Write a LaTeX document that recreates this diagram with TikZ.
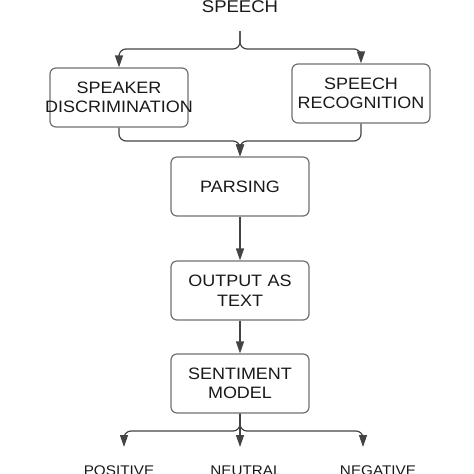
\documentclass[tikz,border=0pt]{standalone}
\usepackage{fontspec}
\setmainfont{Liberation Sans}[FakeStretch=1.09]
\usetikzlibrary{arrows.meta}
\definecolor{linegray}{HTML}{444444}
\definecolor{boxgray}{HTML}{707070}

\begin{document}
\begin{tikzpicture}[x=1pt, y=-1pt,
		stage/.style={draw=boxgray, line width=1.2pt, rounded corners=6pt, minimum width=138pt, minimum height=59pt, inner sep=0pt, text width=128pt, align=center, text=black!90, font=\fontsize{16.5}{19.5}\selectfont},
		flow/.style={draw=linegray, line width=1.2pt, rounded corners=7pt, -{Triangle[length=12pt, width=8pt]}},
		outcome/.style={anchor=base, text=black!90, font=\fontsize{14}{16}\selectfont}]
			\useasboundingbox (0,0) rectangle (474,474);
			\clip (0,0) rectangle (474,474);

			% Input
			\node[anchor=base, text=black!90, font=\fontsize{17}{20}\selectfont] (speech) at (240,12) {SPEECH};
			\coordinate (fork) at (240,31);

			% Boxes
			\node[stage] (spk) at (119,97.5) {SPEAKER\\\hbox to\linewidth{\hss DISCRIMINATION\hss}};
			\node[stage] (rec) at (361,93.5) {SPEECH\\RECOGNITION};
			\node[stage] (parse) at (240,186.5) {PARSING};
			\node[stage] (output) at (240,290.5) {OUTPUT AS\\TEXT};
			\node[stage] (senti) at (240,383.5) {SENTIMENT\\MODEL};

			% Split into the two branches
			\draw[flow] (fork) -- (240,49) -| (spk.north);
			\draw[flow] (fork) -- (240,49) -| (rec.north);

			% Join again
			\draw[flow] (spk.south) |- (240,141) -- (parse.north);
			\draw[flow] (rec.south) |- (240,141) -- (parse.north);
			\draw[flow] (parse) -- (output);
			\draw[flow] (output) -- (senti);

			% Outcomes
			\coordinate (pos-tip) at (124,447);
			\coordinate (neu-tip) at (240,447);
			\coordinate (neg-tip) at (363,447);
			\draw[flow] (senti.south) -- (240,431) -| (pos-tip);
			\draw[flow] (senti.south) -- (neu-tip);
			\draw[flow] (senti.south) -- (240,431) -| (neg-tip);
			\node[outcome] (pos) at (119,475) {POSITIVE};
			\node[outcome] (neu) at (246,475) {NEUTRAL};
			\node[outcome] (neg) at (378,475) {NEGATIVE};
		\end{tikzpicture}
\end{document}
